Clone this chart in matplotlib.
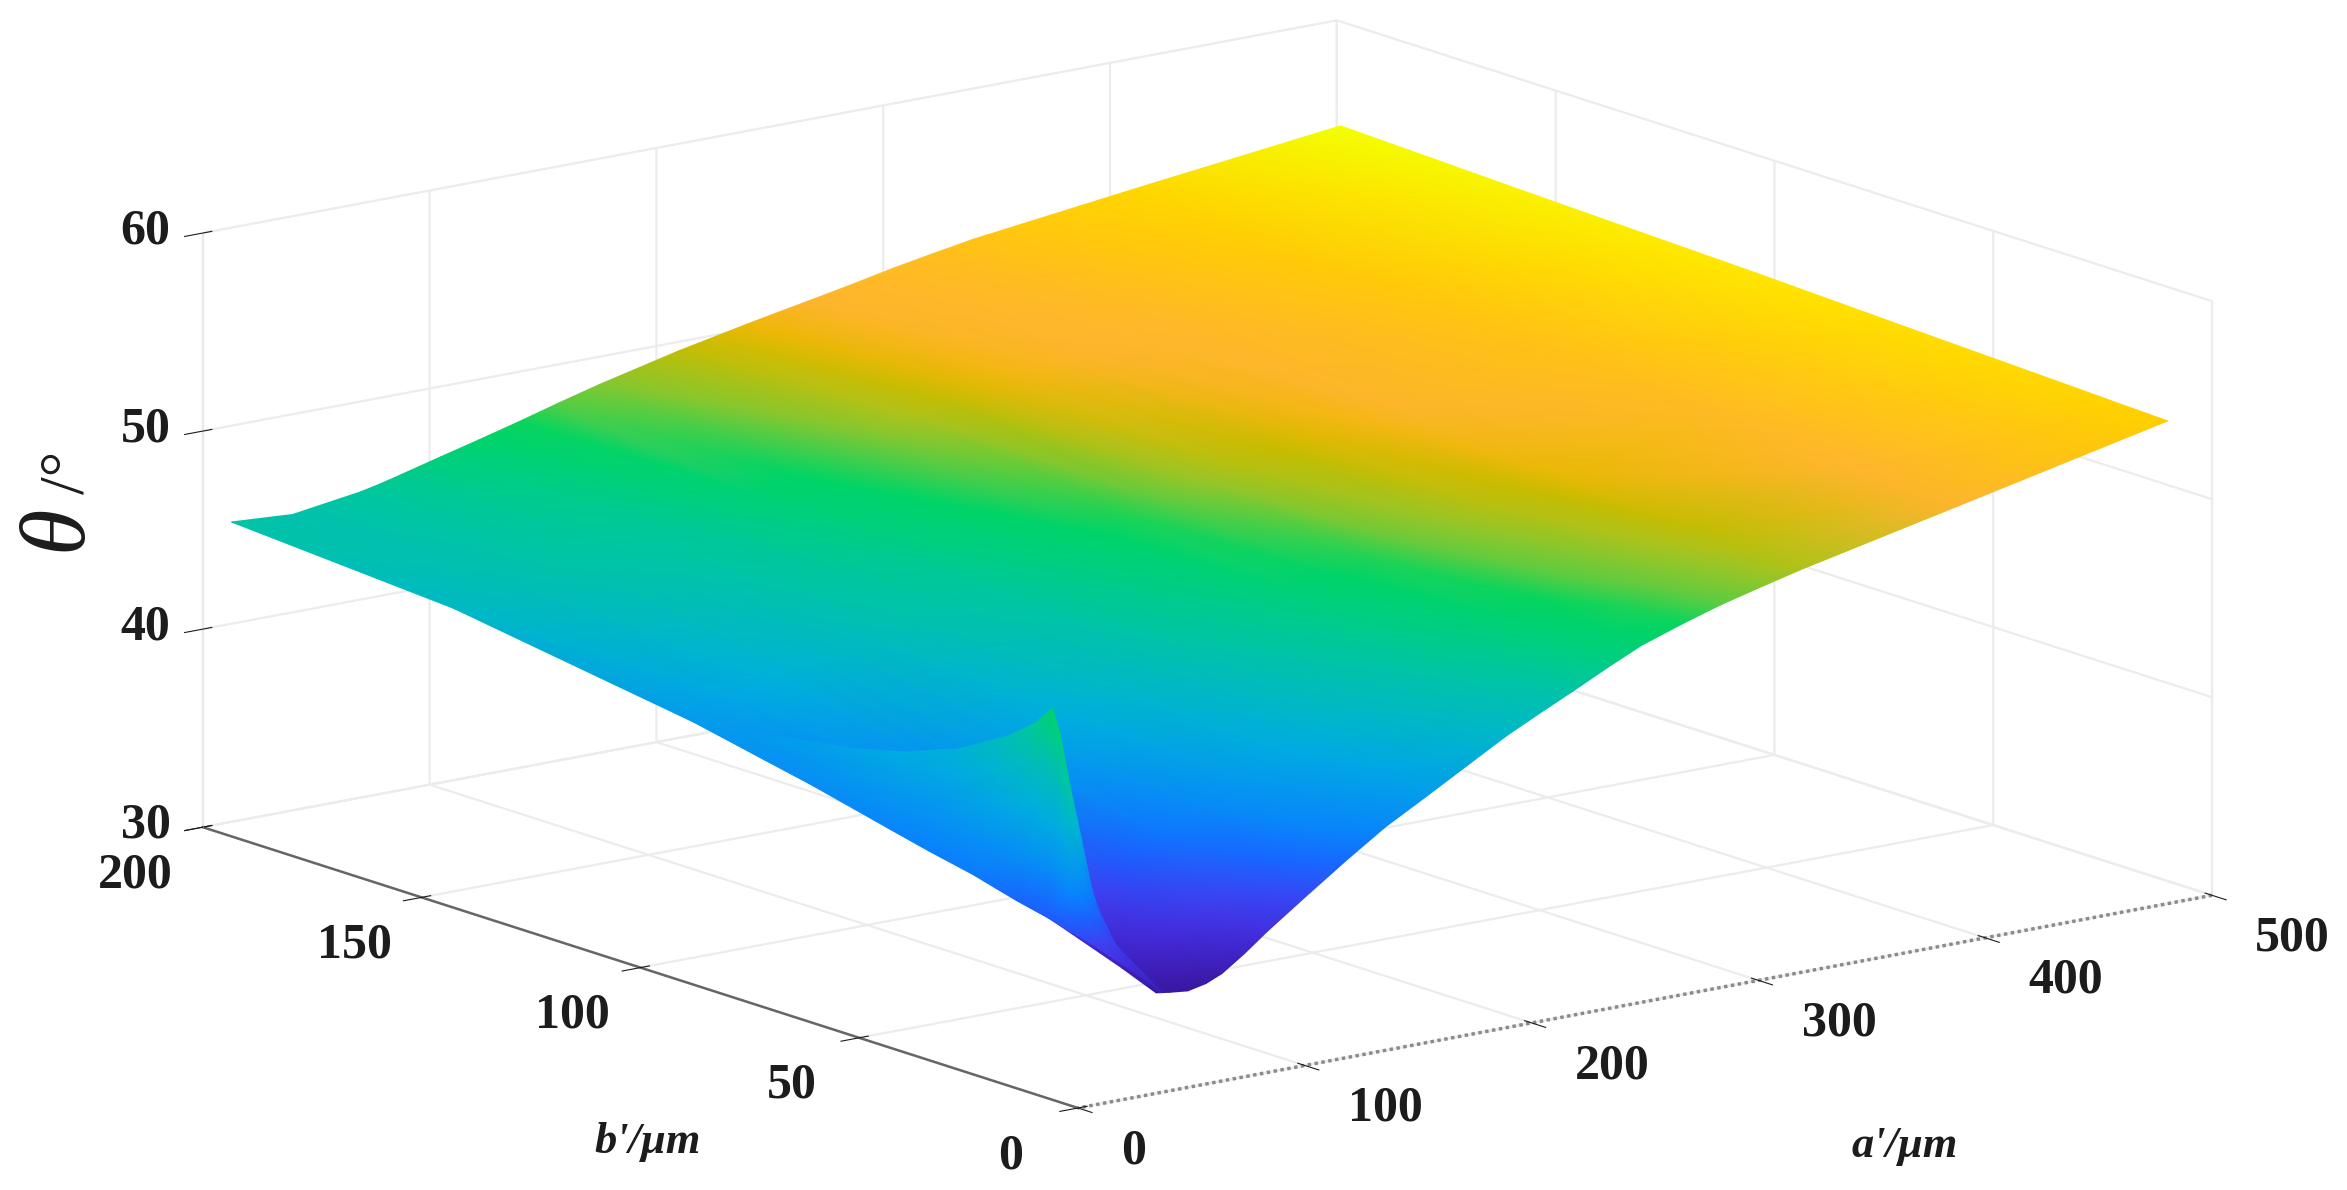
"""Surface of contact angle theta over a' and b' with a shaded fold near the origin."""

import matplotlib
matplotlib.use("Agg")
import matplotlib.pyplot as plt
import matplotlib.tri as mtri
import numpy as np
from matplotlib.colors import LinearSegmentedColormap
from mpl_toolkits.mplot3d import proj3d

W, H = 2347, 1190

a_ticks = [0, 100, 200, 300, 400, 500]
b_ticks = [0, 50, 100, 150, 200]
z_ticks = [30, 40, 50, 60]

# main surface: rows of b', columns of a' (first two columns follow the curved left edge)
b_rows = [6, 15, 30, 60, 100, 150, 195]
a_left = [46, 48, 44, 37, 26, 14, 3]
a_second = [52, 54, 52, 48, 43, 37, 30]
a_cols = [60, 68, 75, 85, 95, 112, 130, 147, 165, 200, 215, 230, 245, 260, 278, 295, 312, 330, 400, 492]
theta = [
    [34.4, 34.3, 34.2, 34.4, 34.75, 35.55, 36.45, 37.85, 39.3, 40.6, 41.75, 44.03, 44.88, 45.7, 46.55, 47.35, 48.05, 48.65, 49.15, 49.66, 51.4, 53.7],
    [35.0, 35.35, 35.67, 36.09, 36.51, 37.17, 37.83, 39.05, 40.39, 41.44, 42.57, 44.73, 45.44, 46.15, 46.85, 47.55, 48.17, 48.78, 49.31, 49.85, 51.3, 53.77],
    [36.6, 37.0, 37.43, 37.81, 38.25, 38.92, 39.59, 40.69, 41.75, 42.77, 43.84, 45.73, 46.24, 46.74, 47.38, 48.03, 48.58, 49.14, 49.65, 50.16, 51.61, 53.9],
    [38.93, 39.6, 40.3, 40.78, 41.16, 41.71, 42.25, 43.15, 44.1, 44.92, 45.73, 46.57, 47.15, 47.72, 48.24, 48.77, 49.37, 49.97, 50.31, 50.65, 52.23, 54.15],
    [41.7, 42.6, 43.34, 43.69, 44.0, 44.42, 44.84, 45.54, 45.83, 45.99, 46.56, 47.71, 48.2, 48.69, 49.33, 49.97, 50.3, 50.63, 50.95, 51.27, 52.88, 54.5],
    [44.3, 45.1, 45.72, 45.78, 45.82, 45.89, 45.96, 46.15, 46.8, 47.27, 47.78, 49.2, 49.7, 50.2, 50.58, 50.97, 51.16, 51.35, 51.68, 52.02, 53.45, 54.85],
    [45.7, 45.5, 46.0, 46.2, 46.4, 46.7, 47.0, 47.5, 48.05, 48.6, 49.15, 50.1, 50.45, 50.8, 51.13, 51.45, 51.85, 52.25, 52.6, 52.95, 53.95, 55.2],
]

# fold flap: inner curve (arc and crease) and outer curve along the front edge
flap_in_a = [25.3, 33.5, 37.2, 35.1, 38.1, 46.2, 46.2, 43.2, 38.9, 27.6, 0.9, 12.5, 26.6, 25.7, 47.8]
flap_in_b = [105.4, 91.2, 81.5, 68.8, 58.7, 51.3, 39.7, 32.3, 26.0, 18.4, 2.2, 5.8, 10.4, 5.8, 5.6]
flap_in_z = [42.0, 41.7, 42.0, 42.5, 43.0, 43.5, 45.0, 46.2, 47.5, 47.0, 46.0, 43.0, 39.5, 37.5, 34.4]
flap_out_a = [25.3, 22.4, 19.4, 15.1, 12.3, 9.7, 4.9, 6.3, 7.9, 8.8, 8.4, 15.1, 22.1, 32.6, 47.8]
flap_out_b = [105.4, 83.4, 71.6, 59.1, 49.1, 39.2, 26.5, 22.1, 17.8, 11.4, 6.1, 4.4, 2.9, 3.2, 5.6]
flap_out_z = [42.0, 41.2, 40.9, 40.6, 40.3, 40.0, 39.8, 39.4, 39.0, 38.6, 38.3, 37.6, 36.8, 35.8, 34.4]

theta_levels = [34.0, 36.0, 37.5, 38.5, 40.0, 43.0, 45.7, 47.0, 48.0, 48.7, 49.6, 50.3, 50.8, 51.4, 52.5, 53.7, 54.6, 55.2]
level_colors = ["#38169c", "#4428d8", "#4040f0", "#2058ff", "#0a80ff", "#00aee0", "#00c4a8", "#00d07c",
                "#00d660", "#60cc40", "#a8c420", "#c8bc00", "#f0b808", "#ffb530", "#ffbc20",
                "#ffd000", "#ffe800", "#f4ff00"]

plt.rcParams["font.family"] = ["Liberation Serif", "DejaVu Serif"]
plt.rcParams["font.weight"] = "bold"
plt.rcParams["font.size"] = 36
plt.rcParams["grid.color"] = "#ececec"
plt.rcParams["grid.linewidth"] = 1.6

fig = plt.figure(figsize=(W / 100, H / 100), dpi=100)
S = 2400
ax = fig.add_axes([0.0, -0.5, S / W, S / H], projection="3d", proj_type="ortho")
ax.view_init(elev=14.2, azim=-127.4)
ax.set_box_aspect((955, 964, 410))
ax.set_xlim(0, 500, view_margin=0)
ax.set_ylim(0, 200, view_margin=0)
ax.set_zlim(30, 60, view_margin=0)
ax.set_xticks(a_ticks)
ax.set_yticks(b_ticks)
ax.set_zticks(z_ticks)
ax.tick_params(axis="both", colors="#1c1c1c", labelsize=36, width=1.6)
ax.tick_params(axis="x", pad=30)
ax.tick_params(axis="y", pad=38)
ax.tick_params(axis="z", pad=14)
for label in ax.get_xticklabels():
    label.set_ha("left")
    label.set_va("center")
for label in ax.get_yticklabels():
    label.set_va("center")
for label in ax.get_zticklabels():
    label.set_va("center")
for axis in (ax.xaxis, ax.yaxis, ax.zaxis):
    axis.pane.fill = False
    axis.pane.set_edgecolor("#ededed")
ax.xaxis.line.set_color("#8a8a8a")
ax.xaxis.line.set_linestyle((0, (1, 1)))
ax.xaxis.line.set_linewidth(2.5)
ax.yaxis.line.set_color("#666666")
ax.yaxis.line.set_linewidth(1.8)
ax.zaxis.line.set_color("#e6e6e6")


def to_pixels(a, b, z):
    sx, sy, _ = proj3d.proj_transform(np.ravel(a), np.ravel(b), np.ravel(z), ax.get_proj())
    return ax.transData.transform(np.column_stack([sx, sy]))


# scale and shift the box so its floor corners land where they do in the figure
target_o = np.array([1078.0, H - 1108.0])
target_a = np.array([2212.0, H - 895.0])
px = to_pixels([0, 500], [0, 0], [30, 30])
S = S * np.linalg.norm(target_a - target_o) / np.linalg.norm(px[1] - px[0])
ax.set_position([0.0, -0.5, S / W, S / H])
px = to_pixels([0, 500], [0, 0], [30, 30])
shift = target_o - px[0]
ax.set_position([shift[0] / W, -0.5 + shift[1] / H, S / W, S / H])

# smooth shading goes on a transparent overlay in pixel units
overlay = fig.add_axes([0, 0, 1, 1])
overlay.set_xlim(0, W)
overlay.set_ylim(0, H)
overlay.axis("off")

cmap = LinearSegmentedColormap.from_list(
    "theta",
    [((v - theta_levels[0]) / (theta_levels[-1] - theta_levels[0]), c) for v, c in zip(theta_levels, level_colors)],
)

nr, nc = len(b_rows), len(a_cols) + 2
grid_a = np.array([[l, s] + a_cols for l, s in zip(a_left, a_second)], dtype=float)
grid_b = np.repeat(np.array(b_rows, dtype=float)[:, None], nc, axis=1)
grid_z = np.array(theta, dtype=float)


def quad_triangles(rows, cols):
    tris = []
    for i in range(rows - 1):
        for j in range(cols - 1):
            p = i * cols + j
            tris += [[p, p + 1, p + cols], [p + 1, p + cols + 1, p + cols]]
    return tris


pts = to_pixels(grid_a, grid_b, grid_z)
overlay.tripcolor(mtri.Triangulation(pts[:, 0], pts[:, 1], quad_triangles(nr, nc)), grid_z.ravel(),
                  shading="gouraud", cmap=cmap, vmin=theta_levels[0], vmax=theta_levels[-1])

# the flap is cut into thin strips so the vertex colours follow the colormap
strips = [0, 0.25, 0.5, 0.75, 1]
flap_a = np.array([np.array(flap_in_a) * (1 - t) + np.array(flap_out_a) * t for t in strips])
flap_b = np.array([np.array(flap_in_b) * (1 - t) + np.array(flap_out_b) * t for t in strips])
flap_z = np.array([np.array(flap_in_z) * (1 - t) + np.array(flap_out_z) * t for t in strips])
pts = to_pixels(flap_a, flap_b, flap_z)
overlay.tripcolor(mtri.Triangulation(pts[:, 0], pts[:, 1], quad_triangles(len(strips), len(flap_in_a))), flap_z.ravel(),
                  shading="gouraud", cmap=cmap, vmin=theta_levels[0], vmax=theta_levels[-1])

fig.text(648 / W, 1 - 1142 / H, "b'/μm", style="italic", fontsize=32, ha="center", va="center", color="#1c1c1c")
fig.text(1905 / W, 1 - 1146 / H, "a'/μm", style="italic", fontsize=32, ha="center", va="center", color="#1c1c1c")
fig.text(58 / W, 1 - 528 / H, "θ", style="italic", weight="normal", fontsize=68, rotation=90, ha="center", va="center", color="#1c1c1c")
fig.text(68 / W, 1 - 472 / H, "/°", weight="normal", fontsize=46, rotation=90, ha="center", va="center", color="#1c1c1c")

fig.savefig("out.png", dpi=100)
